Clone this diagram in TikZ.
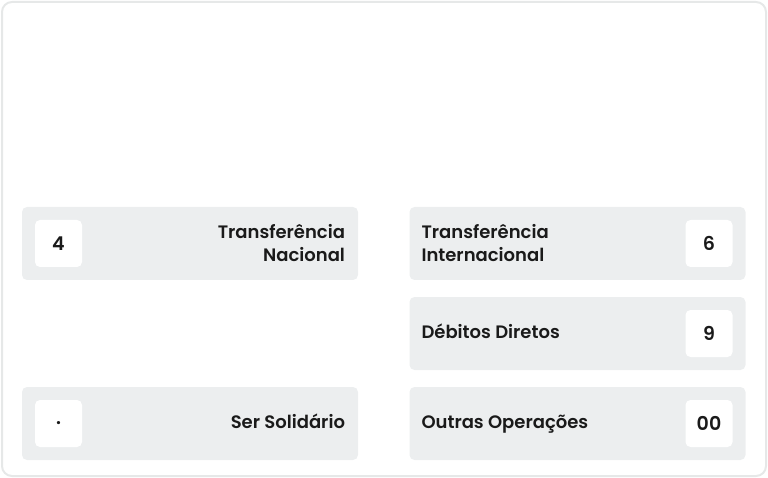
\documentclass[tikz,border=0pt]{standalone}
\usepackage{fontspec}
\IfFontExistsTF{Poppins SemiBold}{\setmainfont{Poppins SemiBold}}{\setmainfont{Poppins}}
\usetikzlibrary{positioning}
\definecolor{panel}{HTML}{ECEEEF}
\definecolor{frame}{HTML}{E6E8E8}
\definecolor{ink}{HTML}{1A1A1A}
\tikzset{
	option/.style={fill=panel, rounded corners=5pt, minimum width=336pt, minimum height=73pt, inner sep=0pt},
	keybox/.style={fill=white, rounded corners=5pt, minimum width=47pt, minimum height=47pt, inner sep=0pt, text=ink, font=\fontsize{19}{22}\selectfont},
	label/.style={text=ink, font=\fontsize{18}{23}\selectfont, inner sep=0pt},
	oneline/.style={label, text height=13pt, text depth=4pt}
}
\begin{document}
\begin{tikzpicture}[x=1pt, y=-1pt]
	\useasboundingbox (0,0) rectangle (768,478);
	\draw[frame, line width=2pt, rounded corners=10pt] (2,2) rectangle (766,476);
	
	\node[option] (nac) at (190,243.5) {};
	\node[option] (int) at (577.5,243.5) {};
	\node[option] (deb) at (577.5,333.5) {};
	\node[option] (sol) at (190,423.5) {};
	\node[option] (out) at (577.5,423.5) {};
	
	\node[keybox, right=13pt of nac.west] (k4) {4};
	\node[keybox, left=13pt of int.east] (k6) {6};
	\node[keybox, left=13pt of deb.east] (k9) {9};
	\node[keybox, right=13pt of sol.west] (kdot) {.};
	\node[keybox, left=13pt of out.east] (k00) {00};
	
	\node[label, left=13pt of nac.east, align=right] (tnac) {Transferência\\Nacional};
	\node[label, right=12pt of int.west, align=left] (tint) {Transferência\\Internacional};
	\node[oneline, right=12pt of deb.west] (tdeb) {Débitos Diretos};
	\node[oneline, left=13pt of sol.east] (tsol) {Ser Solidário};
	\node[oneline, right=12pt of out.west] (tout) {Outras Operações};
\end{tikzpicture}
\end{document}
